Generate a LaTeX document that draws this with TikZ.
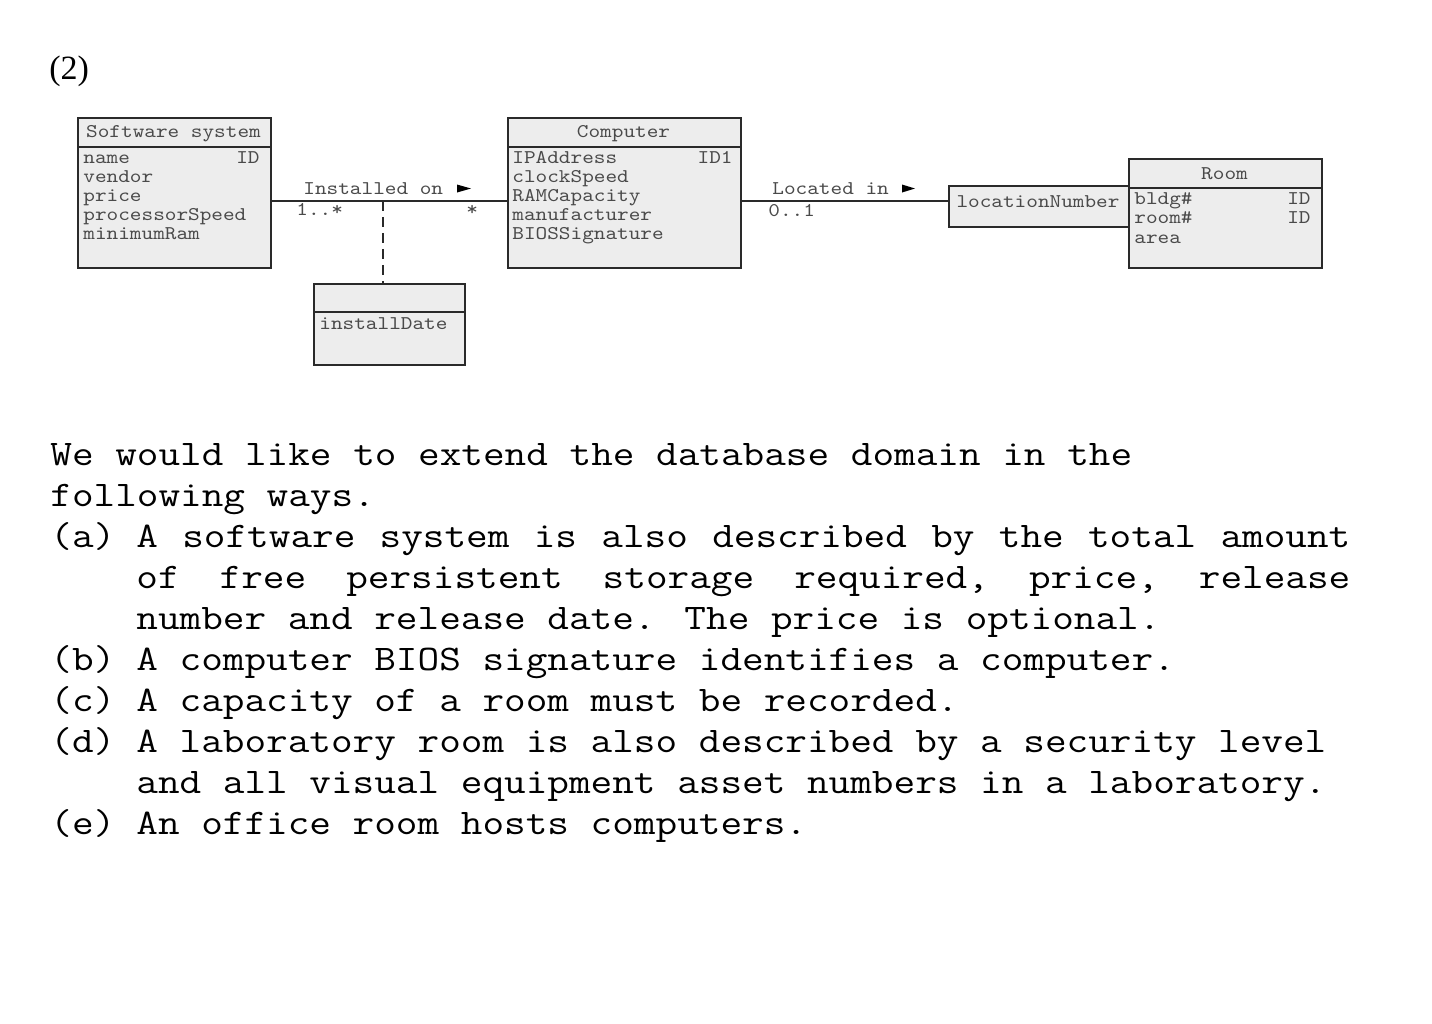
\documentclass[tikz,border=0pt]{standalone}
\usepackage{fontspec}
\setmainfont{Liberation Serif}
\newfontfamily\monofam[FakeStretch=1.143]{Latin Modern Mono}
\newfontfamily\bodyfam[FakeStretch=1.167]{Latin Modern Mono}
\definecolor{boxfill}{HTML}{EDEDED}
\definecolor{dtext}{HTML}{4A4A4A}
\definecolor{bline}{HTML}{2A2A2A}
\newcommand\jsp{\ \hfill}
\begin{document}
\begin{tikzpicture}[x=0.5pt,y=-0.5pt,
  umlbox/.style={draw=bline, fill=boxfill, line width=0.8pt, inner sep=0pt, anchor=north west},
  dtxt/.style={font=\monofam\fontsize{9.7}{11}\selectfont, text=dtext, inner sep=0pt, anchor=base west},
  dtxtr/.style={dtxt, anchor=base east},
  dtxtc/.style={dtxt, anchor=base},
  btxt/.style={font=\bodyfam\fontsize{18}{20.5}\selectfont, text=black, inner sep=0pt, anchor=base west},
  assoc/.style={draw=bline, line width=0.8pt},
  sepline/.style={draw=bline, line width=0.8pt},
  navtri/.style={fill=black},
]
\useasboundingbox (0,0) rectangle (1432,1024);

% heading
\node[font=\fontsize{17}{19}\selectfont, inner sep=0pt, anchor=base west] (head) at (49,79) {(2)};

% boxes
\node[umlbox, minimum width=96.5pt, minimum height=75pt] (sw) at (77,117) {};
\node[umlbox, minimum width=116.5pt, minimum height=75pt] (comp) at (507,117) {};
\node[umlbox, minimum width=75.5pt, minimum height=40.5pt] (idate) at (313,283) {};
\node[umlbox, minimum width=90pt, minimum height=20.5pt] (loc) at (948,185) {};
\node[umlbox, minimum width=96.5pt, minimum height=54.5pt] (room) at (1128,158) {};

% compartment separators
\draw[sepline] ([yshift=-15pt]sw.north west) -- ([yshift=-15pt]sw.north east);
\draw[sepline] ([yshift=-15pt]comp.north west) -- ([yshift=-15pt]comp.north east);
\draw[sepline] ([yshift=-14.5pt]idate.north west) -- ([yshift=-14.5pt]idate.north east);
\draw[sepline] ([yshift=-15pt]room.north west) -- ([yshift=-15pt]room.north east);

% Software system texts
\node[dtxtc] (swt) at (173.5,137) {Software system};
\node[dtxt] (swa1) at (83,163) {name};
\node[dtxtr] (swid) at (260,163) {ID};
\node[dtxt] (swa2) at (83,182) {vendor};
\node[dtxt] (swa3) at (83,201) {price};
\node[dtxt] (swa4) at (83,220) {processorSpeed};
\node[dtxt] (swa5) at (83,239) {minimumRam};

% Computer texts
\node[dtxtc] (compt) at (623.5,137) {Computer};
\node[dtxt] (ca1) at (512,163) {IPAddress};
\node[dtxtr] (cid) at (733,163) {ID1};
\node[dtxt] (ca2) at (512,182) {clockSpeed};
\node[dtxt] (ca3) at (512,201) {RAMCapacity};
\node[dtxt] (ca4) at (512,220) {manufacturer};
\node[dtxt] (ca5) at (512,239) {BIOSSignature};

% installDate
\node[dtxt] (ida) at (319,329) {installDate};

% locationNumber
\node[dtxtc] (lnt) at (1038,207) {locationNumber};

% Room texts
\node[dtxtc] (roomt) at (1224.5,179) {Room};
\node[dtxt] (ra1) at (1134,204) {bldg\#};
\node[dtxtr] (rid1) at (1311,204) {ID};
\node[dtxt] (ra2) at (1134,223) {room\#};
\node[dtxtr] (rid2) at (1311,223) {ID};
\node[dtxt] (ra3) at (1134,243) {area};

% associations
\draw[assoc] ([yshift=-4pt]sw.east) -- ([yshift=-4pt]comp.west) coordinate[pos=0.4726] (mid);
\draw[assoc, dash pattern=on 5pt off 3pt] (mid) -- (mid |- idate.north);
\draw[assoc] ([yshift=-4pt]comp.east) -- (loc.west |- mid);

% association labels
\node[dtxt] (instl) at (303,194) {Installed on};
\fill[navtri] (457,184.5) -- (471,188.5) -- (457,192.5) -- cycle;
\node[dtxt] (m1) at (296,215) {1..*};
\node[dtxt] (m2) at (466,215) {*};
\node[dtxt] (locl) at (772,194) {Located in};
\fill[navtri] (902,184.5) -- (915,188.5) -- (902,192.5) -- cycle;
\node[dtxt] (m3) at (768,216) {0..1};

% body text
\node[btxt] (t1) at (50,465) {We would like to extend the database domain in the};
\node[btxt] (t2) at (50,506) {following ways.};
\node[btxt] (la) at (50,547) {(a)};
\node[btxt] (ta1) at (136,547) {\makebox[607pt][s]{A\jsp software\jsp system\jsp is\jsp also\jsp described\jsp by\jsp the\jsp total\jsp amount}};
\node[btxt] (ta2) at (136,588) {\makebox[607pt][s]{of\jsp free\jsp persistent\jsp storage\jsp required,\jsp price,\jsp release}};
\node[btxt] (ta3) at (136,629) {number and release date. The price is optional.};
\node[btxt] (lb) at (50,670) {(b)};
\node[btxt] (tb) at (136,670) {A computer BIOS signature identifies a computer.};
\node[btxt] (lc) at (50,711) {(c)};
\node[btxt] (tc) at (136,711) {A capacity of a room must be recorded.};
\node[btxt] (ld) at (50,752) {(d)};
\node[btxt] (td1) at (136,752) {A laboratory room is also described by a security level};
\node[btxt] (td2) at (136,793) {and all visual equipment asset numbers in a laboratory.};
\node[btxt] (le) at (50,834) {(e)};
\node[btxt] (te) at (136,834) {An office room hosts computers.};
\end{tikzpicture}
\end{document}
